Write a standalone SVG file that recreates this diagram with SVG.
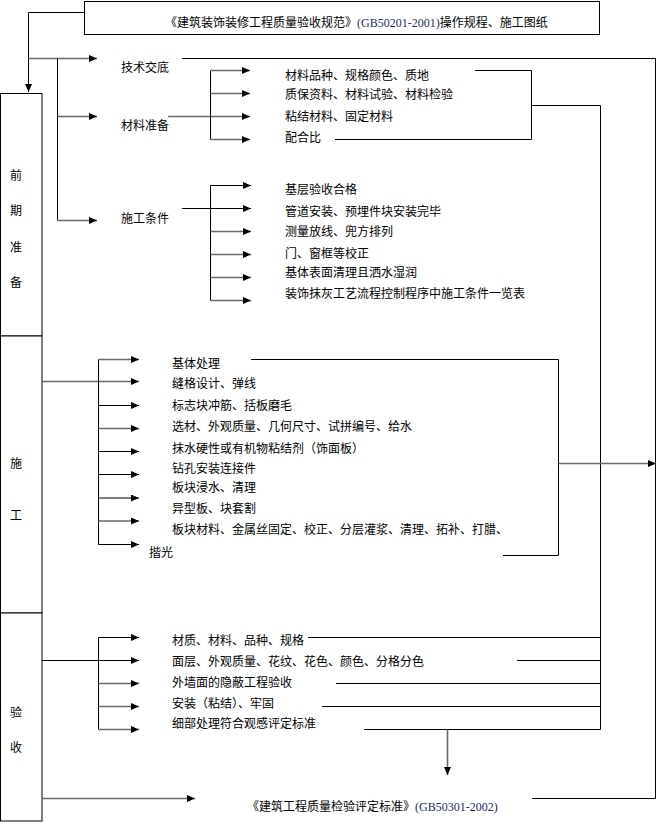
<svg xmlns="http://www.w3.org/2000/svg" width="657" height="822" viewBox="0 0 657 822">
<style>
text{font-family:"Noto Sans CJK SC","Liberation Sans",sans-serif;font-size:12px;fill:#000}
.ser{font-family:"Liberation Serif","Noto Sans CJK SC",serif;fill:#1c2c5c}
.box{fill:#fff;stroke:#000;stroke-width:1}
.k{fill:none;stroke:#000;stroke-width:1}
.g{fill:none;stroke:#6a6a6a;stroke-width:1.6}
.lab{text-anchor:middle}
</style>
<defs>
<marker id="ah" markerUnits="userSpaceOnUse" markerWidth="9" markerHeight="8" refX="8" refY="3.5" orient="auto">
<path d="M0,0 L8,3.5 L0,7 z" fill="#000"/>
</marker>
</defs>
<rect width="657" height="822" fill="#fff"/>

<g id="top">
<rect class="box" x="84.5" y="1.5" width="515" height="33"/>
<text x="165" y="27">《建筑装饰装修工程质量验收规范》<tspan class="ser">(GB50201-2001)</tspan>操作规程、施工图纸</text>
</g>

<g id="col-prep">
<rect class="box" x="0.5" y="93.5" width="41.5" height="242.5"/>
<text class="lab" x="16" y="179.5">前</text>
<text class="lab" x="16" y="214.5">期</text>
<text class="lab" x="16" y="251.5">准</text>
<text class="lab" x="16" y="286.5">备</text>
</g>
<g id="col-build">
<rect class="box" x="0.5" y="336" width="41.5" height="277"/>
<text class="lab" x="16" y="467.5">施</text>
<text class="lab" x="16" y="519.5">工</text>
</g>
<g id="col-accept">
<rect class="box" x="0.5" y="613" width="41.5" height="208"/>
<text class="lab" x="16" y="716.5">验</text>
<text class="lab" x="16" y="752">收</text>
</g>

<g id="n-jishu"><text x="121" y="72">技术交底</text></g>
<g id="n-cailiao"><text x="121" y="130">材料准备</text></g>
<g id="n-shigong"><text x="121" y="223">施工条件</text></g>

<g id="n-mat">
<text x="285" y="79.5">材料品种、规格颜色、质地</text>
<text x="285" y="99">质保资料、材料试验、材料检验</text>
<text x="285" y="121">粘结材料、固定材料</text>
<text x="285" y="141.5">配合比</text>
</g>

<g id="n-cond">
<text x="285" y="194">基层验收合格</text>
<text x="285" y="216">管道安装、预埋件块安装完毕</text>
<text x="285" y="236">测量放线、兜方排列</text>
<text x="285" y="257.5">门、窗框等校正</text>
<text x="285" y="277">基体表面清理且洒水湿润</text>
<text x="285" y="298">装饰抹灰工艺流程控制程序中施工条件一览表</text>
</g>

<g id="n-steps">
<text x="172" y="368">基体处理</text>
<text x="172" y="388">缝格设计、弹线</text>
<text x="172" y="409.5">标志块冲筋、括板磨毛</text>
<text x="172" y="431">选材、外观质量、几何尺寸、试拼编号、给水</text>
<text x="172" y="452.5">抹水硬性或有机物粘结剂（饰面板）</text>
<text x="172" y="472.5">钻孔安装连接件</text>
<text x="172" y="492">板块浸水、清理</text>
<text x="172" y="512.5">异型板、块套割</text>
<text x="172" y="534">板块材料、金属丝固定、校正、分层灌浆、清理、拓补、打腊、</text>
<text x="149" y="556.5">揩光</text>
</g>

<g id="n-check">
<text x="172" y="645">材质、材料、品种、规格</text>
<text x="172" y="666">面层、外观质量、花纹、花色、颜色、分格分色</text>
<text x="172" y="687">外墙面的隐蔽工程验收</text>
<text x="172" y="708">安装（粘结）、牢固</text>
<text x="172" y="728">细部处理符合观感评定标准</text>
</g>

<g id="n-bottom">
<text x="247" y="811">《建筑工程质量检验评定标准》<tspan class="ser">(GB50301-2002)</tspan></text>
</g>

<g id="connectors">
<path class="k" d="M84,12.5 H28.5 V92" marker-end="url(#ah)"/>
<path class="g" d="M28.5,58.5 H97" marker-end="url(#ah)"/>
<path class="k" d="M57.5,58.5 V220.5"/>
<path class="g" d="M57.5,116.5 H97" marker-end="url(#ah)"/>
<path class="g" d="M57.5,220.5 H97" marker-end="url(#ah)"/>
<path class="k" d="M182,58.5 H655.5 V798.5 H532"/>

<path class="g" d="M168,116.5 H250" marker-end="url(#ah)"/>
<path class="k" d="M210.5,70.5 V139.5"/>
<path class="g" d="M210.5,70.5 H250" marker-end="url(#ah)"/>
<path class="g" d="M210.5,93.5 H250" marker-end="url(#ah)"/>
<path class="g" d="M210.5,139.5 H250" marker-end="url(#ah)"/>
<path class="k" d="M475,70.5 H531.5 V139.5 H335"/>
<path class="k" d="M531.5,105.5 H600.5 V729.5"/>

<path class="k" d="M182,208.5 H251" marker-end="url(#ah)"/>
<path class="k" d="M210.5,185.5 V300.5"/>
<path class="k" d="M210.5,185.5 H251" marker-end="url(#ah)"/>
<path class="g" d="M210.5,231.5 H251" marker-end="url(#ah)"/>
<path class="g" d="M210.5,254.5 H251" marker-end="url(#ah)"/>
<path class="g" d="M210.5,277.5 H251" marker-end="url(#ah)"/>
<path class="g" d="M210.5,300.5 H251" marker-end="url(#ah)"/>

<path class="g" d="M42,381.5 H139" marker-end="url(#ah)"/>
<path class="k" d="M98.5,359.5 V544.5"/>
<path class="g" d="M98.5,359.5 H139" marker-end="url(#ah)"/>
<path class="k" d="M98.5,405.5 H139" marker-end="url(#ah)"/>
<path class="g" d="M98.5,428.5 H139" marker-end="url(#ah)"/>
<path class="k" d="M98.5,451.5 H139" marker-end="url(#ah)"/>
<path class="k" d="M98.5,474.5 H139" marker-end="url(#ah)"/>
<path class="k" d="M98.5,498 H139" marker-end="url(#ah)"/>
<path class="g" d="M98.5,521 H139" marker-end="url(#ah)"/>
<path class="k" d="M98.5,544.5 H139" marker-end="url(#ah)"/>
<path class="k" d="M251,359.5 H558.5 V555.5 H503"/>
<path class="g" d="M558.5,463.5 H656" marker-end="url(#ah)"/>

<path class="k" d="M42,660.5 H139" marker-end="url(#ah)"/>
<path class="k" d="M98.5,637.5 V729.5"/>
<path class="k" d="M98.5,637.5 H139" marker-end="url(#ah)"/>
<path class="g" d="M98.5,683.5 H139" marker-end="url(#ah)"/>
<path class="g" d="M98.5,706.5 H139" marker-end="url(#ah)"/>
<path class="g" d="M98.5,729.5 H139" marker-end="url(#ah)"/>
<path class="k" d="M308,637.5 H600.5"/>
<path class="k" d="M517,660.5 H600.5"/>
<path class="k" d="M336,683.5 H600.5"/>
<path class="k" d="M322,706.5 H600.5"/>
<path class="k" d="M364,729.5 H600.5"/>
<path class="g" d="M447.5,729.5 V775" marker-end="url(#ah)"/>
<path class="g" d="M42,798.5 H195" marker-end="url(#ah)"/>
</g>
</svg>
